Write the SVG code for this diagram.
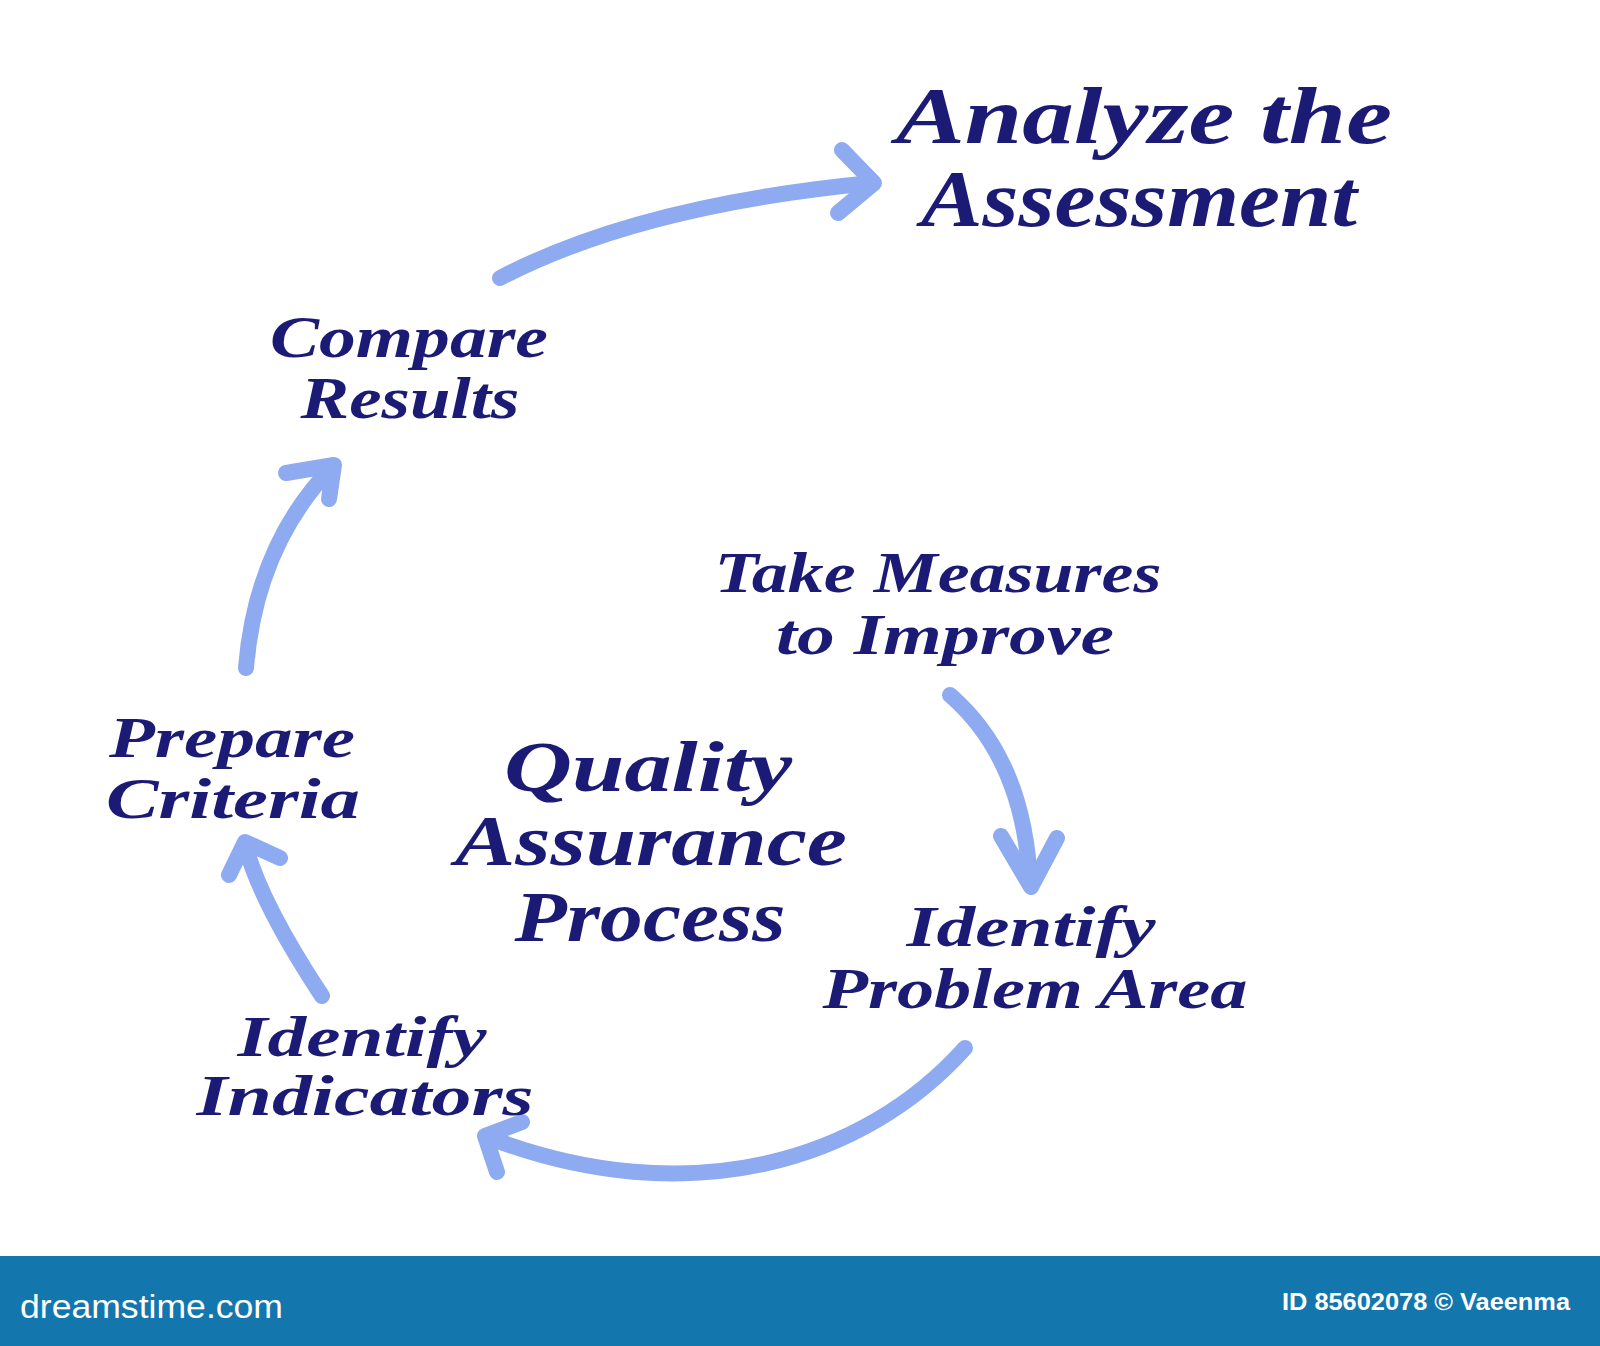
<svg xmlns="http://www.w3.org/2000/svg" width="1600" height="1346" viewBox="0 0 1600 1346">
<style>
.lbl{font-family:"Liberation Serif","DejaVu Serif",serif;font-style:italic;font-weight:bold;fill:#1b1b76;text-anchor:middle}
.arr{fill:none;stroke:#8eaaf0;stroke-width:16;stroke-linecap:round;stroke-linejoin:round}
.foot{font-family:"Liberation Sans",Arial,sans-serif;fill:#ffffff}
</style>
<rect x="0" y="0" width="1600" height="1346" fill="#ffffff"/>
<g id="connectors">
<path class="arr" d="M500,278 Q640,205 872,183"/>
<polyline class="arr" points="842,150 874,183 838,213"/>
<path class="arr" d="M950,695 Q1025,760 1030,885"/>
<polyline class="arr" points="1001,836 1031,887 1057,838"/>
<path class="arr" d="M965,1048 C865,1160 690,1215 487,1137"/>
<polyline class="arr" points="522,1122 485,1136 497,1172"/>
<path class="arr" d="M322,996 Q262,905 246,848"/>
<polyline class="arr" points="229,875 245,842 280,858"/>
<path class="arr" d="M246,668 Q256,545 333,466"/>
<polyline class="arr" points="286,473 334,465 329,499"/>
</g>
<g id="analyze">
<text class="lbl" x="1144" y="143" font-size="80" textLength="496" lengthAdjust="spacingAndGlyphs">Analyze the</text>
<text class="lbl" x="1139" y="226" font-size="80" textLength="436" lengthAdjust="spacingAndGlyphs">Assessment</text>
</g>
<g id="compare">
<text class="lbl" x="409" y="357" font-size="60" textLength="278" lengthAdjust="spacingAndGlyphs">Compare</text>
<text class="lbl" x="410" y="418" font-size="60" textLength="219" lengthAdjust="spacingAndGlyphs">Results</text>
</g>
<g id="measures">
<text class="lbl" x="938" y="592" font-size="58" textLength="447" lengthAdjust="spacingAndGlyphs">Take Measures</text>
<text class="lbl" x="945" y="654" font-size="58" textLength="338" lengthAdjust="spacingAndGlyphs">to Improve</text>
</g>
<g id="center">
<text class="lbl" x="648" y="791" font-size="72" textLength="288" lengthAdjust="spacingAndGlyphs">Quality</text>
<text class="lbl" x="651" y="865" font-size="72" textLength="392" lengthAdjust="spacingAndGlyphs">Assurance</text>
<text class="lbl" x="650" y="941" font-size="72" textLength="271" lengthAdjust="spacingAndGlyphs">Process</text>
</g>
<g id="prepare">
<text class="lbl" x="232" y="757" font-size="58" textLength="246" lengthAdjust="spacingAndGlyphs">Prepare</text>
<text class="lbl" x="233" y="818" font-size="58" textLength="254" lengthAdjust="spacingAndGlyphs">Criteria</text>
</g>
<g id="problem">
<text class="lbl" x="1031" y="946" font-size="58" textLength="249" lengthAdjust="spacingAndGlyphs">Identify</text>
<text class="lbl" x="1035" y="1008" font-size="58" textLength="425" lengthAdjust="spacingAndGlyphs">Problem Area</text>
</g>
<g id="indicators">
<text class="lbl" x="362" y="1056" font-size="58" textLength="249" lengthAdjust="spacingAndGlyphs">Identify</text>
<text class="lbl" x="365" y="1115" font-size="58" textLength="337" lengthAdjust="spacingAndGlyphs">Indicators</text>
</g>
<g id="footer">
<rect x="0" y="1256" width="1600" height="90" fill="#1376ad"/>
<text class="foot" x="20" y="1318" font-size="33" textLength="263" lengthAdjust="spacingAndGlyphs">dreamstime.com</text>
<text class="foot" x="1282" y="1310" font-size="23" font-weight="bold" textLength="288" lengthAdjust="spacingAndGlyphs">ID 85602078 © Vaeenma</text>
</g>
</svg>
